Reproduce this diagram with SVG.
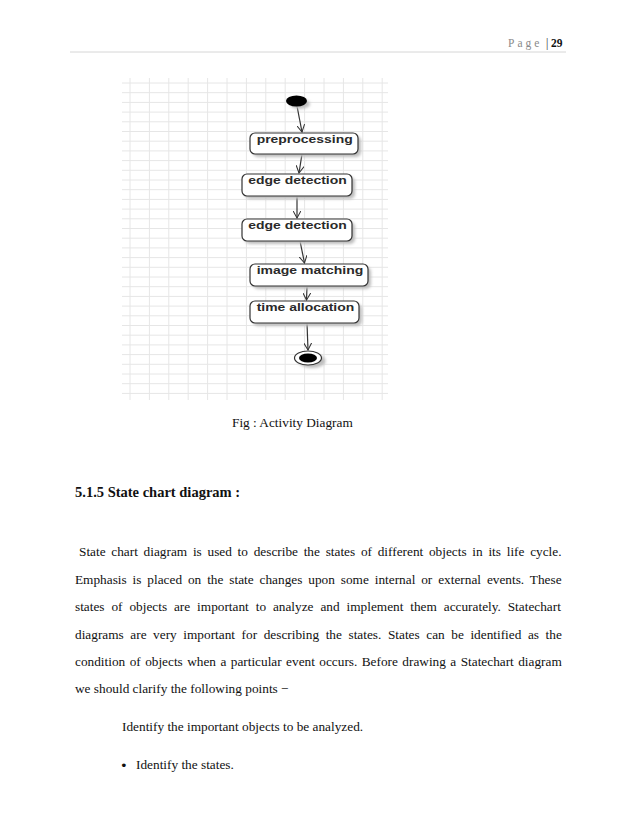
<svg xmlns="http://www.w3.org/2000/svg" width="638" height="826" viewBox="0 0 638 826">
<style>
.grid line{stroke:#e6e6e6;stroke-width:1}
.box{fill:#fff;stroke:#333;stroke-width:1.2}
.shadow{fill:#bdbdbd;filter:url(#blur)}
.lbl{font-family:"Liberation Sans",Arial,sans-serif;font-weight:bold;font-size:11px;fill:#2a2a2a}
.edge{stroke:#333;stroke-width:1.2;fill:none;marker-end:url(#arr)}
.body{font-family:"Liberation Serif","Times New Roman",serif;font-size:13.3px;fill:#111}
</style>
<defs>
<filter id="blur" x="-20%" y="-50%" width="140%" height="200%"><feGaussianBlur stdDeviation="1.5"/></filter>
<marker id="arr" viewBox="0 0 10 10" refX="9" refY="5" markerWidth="8" markerHeight="8" markerUnits="userSpaceOnUse" orient="auto"><path d="M0,0 L9,5 L0,10" fill="none" stroke="#333" stroke-width="1.3"/></marker>
</defs>
<rect width="638" height="826" fill="#fff"/>
<g id="header">
<line x1="70" y1="52" x2="566" y2="52" stroke="#d6d6d6" stroke-width="1"/>
<text x="508" y="47" font-family="'Liberation Serif',serif" font-size="11.5" fill="#8a8a8a" letter-spacing="3">Page</text>
<text x="546" y="47" font-family="'Liberation Serif',serif" font-size="11.5" fill="#222">|</text>
<text x="551" y="47" font-family="'Liberation Serif',serif" font-size="11.5" font-weight="bold" fill="#111">29</text>
</g>
<g id="grid" class="grid">
<line x1="130" y1="78" x2="130" y2="400"/><line x1="149.4" y1="78" x2="149.4" y2="400"/><line x1="168.8" y1="78" x2="168.8" y2="400"/><line x1="188.2" y1="78" x2="188.2" y2="400"/><line x1="207.6" y1="78" x2="207.6" y2="400"/><line x1="227" y1="78" x2="227" y2="400"/><line x1="246.4" y1="78" x2="246.4" y2="400"/><line x1="265.8" y1="78" x2="265.8" y2="400"/><line x1="285.2" y1="78" x2="285.2" y2="400"/><line x1="304.6" y1="78" x2="304.6" y2="400"/><line x1="324" y1="78" x2="324" y2="400"/><line x1="343.4" y1="78" x2="343.4" y2="400"/><line x1="362.8" y1="78" x2="362.8" y2="400"/><line x1="382.2" y1="78" x2="382.2" y2="400"/>
<line x1="122" y1="83" x2="388" y2="83"/><line x1="122" y1="92.7" x2="388" y2="92.7"/><line x1="122" y1="102.4" x2="388" y2="102.4"/><line x1="122" y1="112.1" x2="388" y2="112.1"/><line x1="122" y1="121.8" x2="388" y2="121.8"/><line x1="122" y1="131.5" x2="388" y2="131.5"/><line x1="122" y1="141.2" x2="388" y2="141.2"/><line x1="122" y1="150.9" x2="388" y2="150.9"/><line x1="122" y1="160.6" x2="388" y2="160.6"/><line x1="122" y1="170.3" x2="388" y2="170.3"/><line x1="122" y1="180" x2="388" y2="180"/><line x1="122" y1="189.7" x2="388" y2="189.7"/><line x1="122" y1="199.4" x2="388" y2="199.4"/><line x1="122" y1="209.1" x2="388" y2="209.1"/><line x1="122" y1="218.8" x2="388" y2="218.8"/><line x1="122" y1="228.5" x2="388" y2="228.5"/><line x1="122" y1="238.2" x2="388" y2="238.2"/><line x1="122" y1="247.9" x2="388" y2="247.9"/><line x1="122" y1="257.6" x2="388" y2="257.6"/><line x1="122" y1="267.3" x2="388" y2="267.3"/><line x1="122" y1="277" x2="388" y2="277"/><line x1="122" y1="286.7" x2="388" y2="286.7"/><line x1="122" y1="296.4" x2="388" y2="296.4"/><line x1="122" y1="306.1" x2="388" y2="306.1"/><line x1="122" y1="315.8" x2="388" y2="315.8"/><line x1="122" y1="325.5" x2="388" y2="325.5"/><line x1="122" y1="335.2" x2="388" y2="335.2"/><line x1="122" y1="344.9" x2="388" y2="344.9"/><line x1="122" y1="354.6" x2="388" y2="354.6"/><line x1="122" y1="364.3" x2="388" y2="364.3"/><line x1="122" y1="374" x2="388" y2="374"/><line x1="122" y1="383.7" x2="388" y2="383.7"/><line x1="122" y1="393.4" x2="388" y2="393.4"/>
</g>
<g id="connectors">
<line class="edge" x1="297" y1="106" x2="302" y2="132"/>
<line class="edge" x1="302" y1="154" x2="299" y2="173"/>
<line class="edge" x1="297" y1="196" x2="297" y2="218"/>
<line class="edge" x1="300" y1="241" x2="304.5" y2="263"/>
<line class="edge" x1="307" y1="287" x2="306.5" y2="300"/>
<line class="edge" x1="307" y1="323" x2="308" y2="350"/>
</g>
<g id="start">
<ellipse class="shadow" cx="300" cy="104" rx="10" ry="5"/>
<ellipse cx="296.5" cy="101" rx="10.5" ry="5.5" fill="#000"/>
</g>
<g id="preprocessing">
<rect class="shadow" x="253" y="136" width="108" height="21" rx="5"/>
<rect class="box" x="250" y="133" width="108" height="21" rx="5"/>
<text class="lbl" x="256.7" y="143" textLength="96" lengthAdjust="spacingAndGlyphs">preprocessing</text>
</g>
<g id="edge-detection-1">
<rect class="shadow" x="245" y="177" width="110" height="22" rx="5"/>
<rect class="box" x="242" y="174" width="110" height="22" rx="5"/>
<text class="lbl" x="248.3" y="183.5" textLength="98.4" lengthAdjust="spacingAndGlyphs">edge detection</text>
</g>
<g id="edge-detection-2">
<rect class="shadow" x="245" y="222" width="110" height="22" rx="5"/>
<rect class="box" x="242" y="219" width="110" height="22" rx="5"/>
<text class="lbl" x="248.3" y="228.5" textLength="98.4" lengthAdjust="spacingAndGlyphs">edge detection</text>
</g>
<g id="image-matching">
<rect class="shadow" x="253" y="267" width="118" height="22" rx="5"/>
<rect class="box" x="250" y="264" width="118" height="22" rx="5"/>
<text class="lbl" x="256.7" y="274" textLength="106.6" lengthAdjust="spacingAndGlyphs">image matching</text>
</g>
<g id="time-allocation">
<rect class="shadow" x="253" y="304" width="109" height="22" rx="5"/>
<rect class="box" x="250" y="301" width="109" height="22" rx="5"/>
<text class="lbl" x="256.7" y="311" textLength="97.6" lengthAdjust="spacingAndGlyphs">time allocation</text>
</g>
<g id="end">
<ellipse class="shadow" cx="312" cy="361" rx="13.5" ry="7"/>
<ellipse cx="308" cy="358" rx="13.5" ry="7" fill="#fff" stroke="#333" stroke-width="1.2"/>
<ellipse cx="308" cy="358" rx="9" ry="4.5" fill="#000"/>
</g>
<g id="text">
<text class="body" x="232" y="427">Fig : Activity Diagram</text>
<text x="75" y="497" font-family="'Liberation Serif','Times New Roman',serif" font-size="14.5" font-weight="bold" fill="#111">5.1.5 State chart diagram :</text>
<text class="body" x="79" y="556" word-spacing="2.4">State chart diagram is used to describe the states of different objects in its life cycle.</text>
<text class="body" x="75" y="584" word-spacing="2.57">Emphasis is placed on the state changes upon some internal or external events. These</text>
<text class="body" x="75" y="611" word-spacing="3.57">states of objects are important to analyze and implement them accurately. Statechart</text>
<text class="body" x="75" y="639" word-spacing="3.25">diagrams are very important for describing the states. States can be identified as the</text>
<text class="body" x="75" y="666" word-spacing="1.09">condition of objects when a particular event occurs. Before drawing a Statechart diagram</text>
<text class="body" x="75" y="693">we should clarify the following points −</text>
<text class="body" x="122" y="731">Identify the important objects to be analyzed.</text>
<text x="120" y="770" font-family="'DejaVu Sans',sans-serif" font-size="13" fill="#111">•</text>
<text class="body" x="136" y="769">Identify the states.</text>
</g>
</svg>
